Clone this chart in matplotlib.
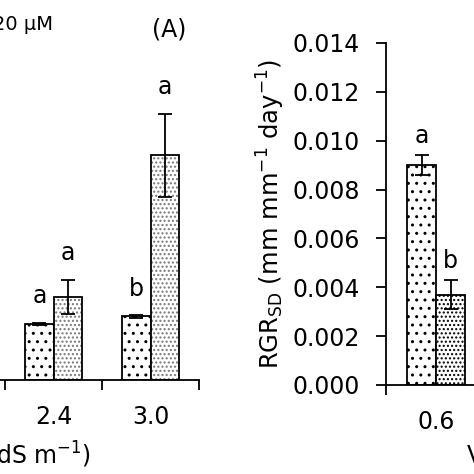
import matplotlib
matplotlib.use("Agg")
import matplotlib.pyplot as plt
import numpy as np

# panel A (only the last two salinity levels are inside the frame)
ec_levels = ["0.6", "1.2", "1.8", "2.4", "3.0"]
a_ctrl = [np.nan, np.nan, np.nan, 0.0023, 0.0026]
a_ctrl_err = [np.nan, np.nan, np.nan, 0.00005, 0.00005]
a_trt = [np.nan, np.nan, np.nan, 0.0034, 0.0092]
a_trt_err = [np.nan, np.nan, np.nan, 0.0007, 0.0017]
a_ctrl_letters = ["", "", "", "a", "b"]
a_trt_letters = ["", "", "", "a", "a"]

# panel B (only the first level is inside the frame)
b_levels = ["0.6", "1.2", "1.8", "2.4", "3.0"]
b_ctrl = [0.0090, np.nan, np.nan, np.nan, np.nan]
b_ctrl_err = [0.0004, np.nan, np.nan, np.nan, np.nan]
b_trt = [0.0037, np.nan, np.nan, np.nan, np.nan]
b_trt_err = [0.0006, np.nan, np.nan, np.nan, np.nan]
b_ctrl_letters = ["a", "", "", "", ""]
b_trt_letters = ["b", "", "", "", ""]

yticks = [0.000, 0.002, 0.004, 0.006, 0.008, 0.010, 0.012, 0.014]

plt.rcParams["font.family"] = "DejaVu Sans"
plt.rcParams["hatch.linewidth"] = 1.0

W = H = 474
fig = plt.figure(figsize=(4.74, 4.74), dpi=100)


def px_axes(left, top, right, bottom):
    return fig.add_axes([left / W, 1 - bottom / H, (right - left) / W, (bottom - top) / H])


def draw_panel(ax, levels, ctrl, ctrl_err, trt, trt_err, l1, l2, trt_hatch, trt_col, pad):
    x = np.arange(len(levels))
    bw = 0.29
    ax.bar(x - bw / 2, ctrl, bw, color="white", edgecolor="black", hatch="..", linewidth=1.3, zorder=2)
    ax.bar(x + bw / 2, trt, bw, color="white", edgecolor=trt_col, hatch=trt_hatch, linewidth=0, zorder=2)
    ax.bar(x + bw / 2, trt, bw, fill=False, edgecolor="black", linewidth=1.3, zorder=3)
    ax.errorbar(x - bw / 2, ctrl, yerr=ctrl_err, fmt="none", ecolor="black", elinewidth=1.3, capsize=5, capthick=1.3, zorder=4)
    ax.errorbar(x + bw / 2, trt, yerr=trt_err, fmt="none", ecolor="black", elinewidth=1.3, capsize=5, capthick=1.3, zorder=4)
    for i in range(len(levels)):
        if l1[i]:
            ax.text(x[i] - bw / 2, ctrl[i] + ctrl_err[i] + pad, l1[i], ha="center", va="bottom", fontsize=17)
        if l2[i]:
            ax.text(x[i] + bw / 2, trt[i] + trt_err[i] + pad, l2[i], ha="center", va="bottom", fontsize=17)
    ax.set_xlim(-0.5, len(levels) - 0.5)
    ax.set_ylim(0, 0.014)
    ax.set_xticks(np.arange(len(levels) + 1) - 0.5)
    ax.set_xticklabels([])
    ax.set_xticks(x, minor=True)
    ax.set_xticklabels(levels, minor=True, fontsize=17)
    ax.tick_params(axis="x", which="major", direction="out", length=7, width=1.3)
    ax.tick_params(axis="x", which="minor", length=0, pad=18)
    for s in ["top", "right"]:
        ax.spines[s].set_visible(False)
    for s in ["left", "bottom"]:
        ax.spines[s].set_linewidth(1.3)


def hide_outside(ax):
    # labels whose group lies outside the frame are not drawn
    fig.canvas.draw()
    r = fig.canvas.get_renderer()
    for lab in ax.get_xticklabels(minor=True):
        bb = lab.get_window_extent(r)
        if bb.x0 < 0 or bb.x1 > W:
            lab.set_visible(False)


# panel A: axes runs off the left edge of the frame
axA = px_axes(-286, 38, 199, 380)
draw_panel(axA, ec_levels, a_ctrl, a_ctrl_err, a_trt, a_trt_err,
           a_ctrl_letters, a_trt_letters, "....", "#777777", 0.0006)
axA.set_yticks(yticks)
axA.set_yticklabels([])
axA.text(0.938, 1.025, "(A)", transform=axA.transAxes, ha="center", va="center", fontsize=17)
fig.text(53 / W, 1 - 25 / H, "20 µM", ha="right", va="center", fontsize=14)
fig.text(91 / W, 1 - 455 / H, "EC (dS m$^{-1}$)", ha="right", va="center", fontsize=17)

# panel B: axes runs off the right edge of the frame
axB = px_axes(386, 43, 886, 385)
draw_panel(axB, b_levels, b_ctrl, b_ctrl_err, b_trt, b_trt_err,
           b_ctrl_letters, b_trt_letters, "....", "black", 0.0003)
axB.set_yticks(yticks)
axB.set_yticklabels(["%.3f" % v for v in yticks], fontsize=17)
axB.tick_params(axis="y", direction="out", length=7, width=1.3, pad=12)
axB.set_ylabel("RGR$_{\\mathrm{SD}}$ (mm mm$^{-1}$ day$^{-1}$)", fontsize=17.5, labelpad=4)
fig.text(467 / W, 1 - 456 / H, "VPD (kPa)", ha="left", va="center", fontsize=17)

hide_outside(axA)
hide_outside(axB)

fig.savefig("out.png", dpi=100)
